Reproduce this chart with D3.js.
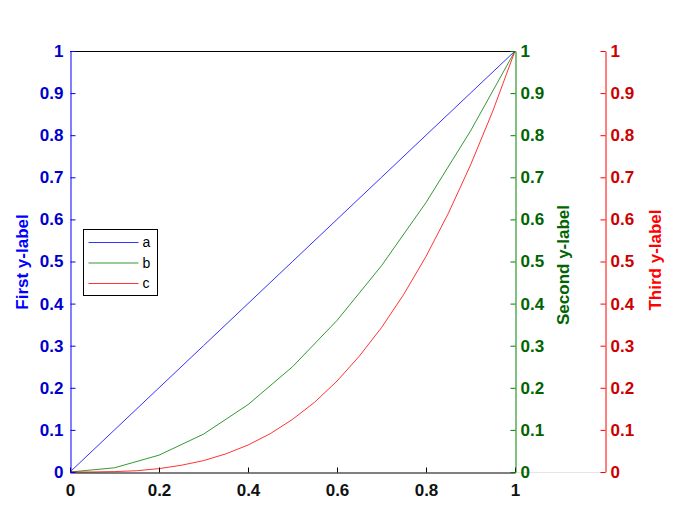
<!DOCTYPE html>
<meta charset="utf-8">
<style>
  body { margin: 0; background: #fff; }
  .lab { font-family: "Liberation Sans", Arial, sans-serif; font-weight: bold; font-size: 17px; }
  .leg { font-family: "Liberation Sans", Arial, sans-serif; font-size: 14px; }
</style>
<body>
<div id="chart"></div>
<script src="https://d3js.org/d3.v7.min.js"></script>
<script>

// Data
var xA = [0, 0.1, 0.2, 0.3, 0.4, 0.5, 0.6, 0.7, 0.8, 0.9, 1];
var serA = [0, 0.1, 0.2, 0.3, 0.4, 0.5, 0.6, 0.7, 0.8, 0.9, 1];
var xB = [0, 0.1, 0.2, 0.3, 0.4, 0.5, 0.6, 0.7, 0.8, 0.9, 1];
var serB = [0, 0.01, 0.04, 0.09, 0.16, 0.25, 0.36, 0.49, 0.64, 0.81, 1];
var xC = [0, 0.05, 0.1, 0.15, 0.2, 0.25, 0.3, 0.35, 0.4, 0.45, 0.5,
          0.55, 0.6, 0.65, 0.7, 0.75, 0.8, 0.85, 0.9, 0.95, 1];
var serC = [0, 0.0001, 0.001, 0.003, 0.008, 0.016, 0.027, 0.043, 0.064, 0.091, 0.125,
            0.166, 0.216, 0.275, 0.343, 0.422, 0.512, 0.614, 0.729, 0.857, 1];
var xTicks = [0, 0.2, 0.4, 0.6, 0.8, 1];
var yTicks = [0, 0.1, 0.2, 0.3, 0.4, 0.5, 0.6, 0.7, 0.8, 0.9, 1];
var names = ["a", "b", "c"];
var colors = ["#0000ff", "#008000", "#ff0000"];

var W = 700, H = 525;
var pLeft = 70, pRight = 515, pTop = 51, pBottom = 472, pThird = 605;

var svg = d3.select("#chart").append("svg")
    .attr("width", W).attr("height", H);

var x = d3.scaleLinear().domain([0, 1]).range([pLeft, pRight]);
var y1 = d3.scaleLinear().domain([0, 1]).range([pBottom, pTop]);
var y2 = d3.scaleLinear().domain([0, 1]).range([pBottom, pTop]);
var y3 = d3.scaleLinear().domain([0, 1]).range([pBottom, pTop]);

var fmt = function(d) { return String(+d.toFixed(1)); };

// faint baseline under the third axis
svg.append("line")
    .attr("x1", pRight).attr("x2", pThird)
    .attr("y1", pBottom + 0.5).attr("y2", pBottom + 0.5)
    .attr("stroke", "#e6e6e6");

// top border
svg.append("line")
    .attr("x1", pLeft).attr("x2", pRight)
    .attr("y1", pTop + 0.5).attr("y2", pTop + 0.5)
    .attr("stroke", "#000");

// lines
var series = [[xA, serA, y1], [xB, serB, y2], [xC, serC, y3]];
series.forEach(function(s, i) {
  var pts = s[0].map(function(v, k) { return [v, s[1][k]]; });
  svg.append("path")
    .datum(pts)
    .attr("fill", "none")
    .attr("stroke", colors[i])
    .attr("stroke-opacity", 0.8)
    .attr("stroke-width", 1)
    .attr("d", d3.line()
      .x(function(d) { return x(d[0]); })
      .y(function(d) { return s[2](d[1]); }));
});

// X axis
var gx = svg.append("g")
    .attr("transform", "translate(0," + (pBottom + 0.5) + ")")
    .call(d3.axisTop(x).tickValues(xTicks).tickFormat(fmt).tickSize(5).tickSizeOuter(0));
gx.selectAll("line, .domain").attr("stroke", "#000");
gx.selectAll(".tick text").attr("y", 18).attr("dy", "0.32em").attr("fill", "#111");

// first y axis (left, ticks inside)
var g1 = svg.append("g")
    .attr("transform", "translate(" + (pLeft + 0.5) + ",0)")
    .call(d3.axisRight(y1).tickValues(yTicks).tickFormat(fmt).tickSize(5).tickSizeOuter(0));
g1.selectAll("line, .domain").attr("stroke", "#0000ff");
g1.selectAll(".tick text").attr("x", -7).attr("text-anchor", "end").attr("fill", "#0000cc");

// second y axis (right, ticks inside)
var g2 = svg.append("g")
    .attr("transform", "translate(" + (pRight + 0.5) + ",0)")
    .call(d3.axisLeft(y2).tickValues(yTicks).tickFormat(fmt).tickSize(5).tickSizeOuter(0));
g2.selectAll("line, .domain").attr("stroke", "#008000");
g2.selectAll(".tick text").attr("x", 5).attr("text-anchor", "start").attr("fill", "#006400");

// third y axis
var g3 = svg.append("g")
    .attr("transform", "translate(" + (pThird + 0.5) + ",0)")
    .call(d3.axisLeft(y3).tickValues(yTicks).tickFormat(fmt).tickSize(5).tickSizeOuter(0));
g3.selectAll("line, .domain").attr("stroke", "#ff0000");
g3.selectAll(".tick text").attr("x", 5).attr("text-anchor", "start").attr("fill", "#cc0000");

svg.selectAll(".tick text")
    .attr("font-family", "'Liberation Sans', Arial, sans-serif")
    .attr("font-weight", "bold").attr("font-size", 17);

// axis labels
svg.append("text").attr("class", "lab")
    .attr("transform", "translate(28,262) rotate(-90)")
    .attr("text-anchor", "middle").attr("fill", "#0000ff")
    .text("First y-label");
svg.append("text").attr("class", "lab")
    .attr("transform", "translate(569,265) rotate(-90)")
    .attr("text-anchor", "middle").attr("fill", "#006400")
    .text("Second y-label");
svg.append("text").attr("class", "lab")
    .attr("transform", "translate(661,260) rotate(-90)")
    .attr("text-anchor", "middle").attr("fill", "#ff0000")
    .text("Third y-label");

// legend
var leg = svg.append("g").attr("transform", "translate(83.5,229.5)");
leg.append("rect").attr("width", 74).attr("height", 66)
    .attr("fill", "#fff").attr("stroke", "#000");
names.forEach(function(n, i) {
  var yy = 13 + i * 20.5;
  leg.append("line").attr("x1", 5).attr("x2", 55)
      .attr("y1", yy).attr("y2", yy)
      .attr("stroke", colors[i]).attr("stroke-opacity", 0.8);
  leg.append("text").attr("class", "leg")
      .attr("x", 59).attr("y", yy).attr("dy", "0.35em")
      .text(n);
});

</script>
</body>
